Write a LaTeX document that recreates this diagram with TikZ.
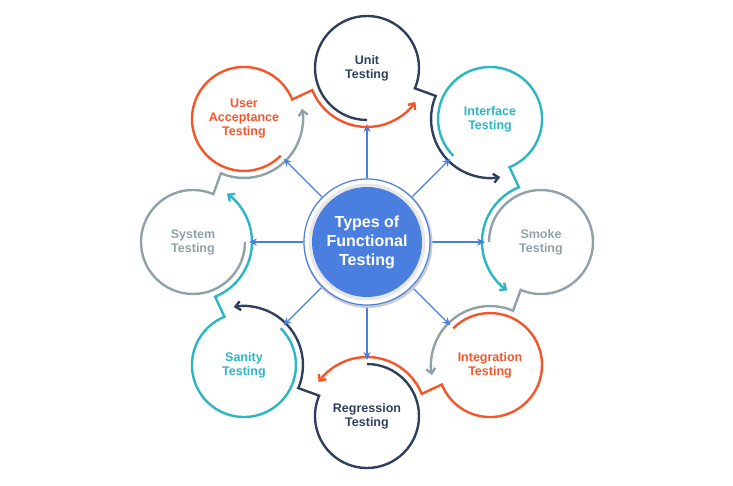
\documentclass[tikz,border=0pt]{standalone}
\usepackage{fontspec}
\setmainfont{Liberation Sans}
\usetikzlibrary{arrows.meta,calc}
\definecolor{navy}{HTML}{2E405E}
\definecolor{teal}{HTML}{2CB6C4}
\definecolor{gry}{HTML}{8FA2A7}
\definecolor{orng}{HTML}{F4562A}
\definecolor{cblue}{HTML}{4A7FE0}
\begin{document}
\begin{tikzpicture}[x=1pt,y=1pt,
  lbl/.style={font=\fontsize{12.5}{14}\selectfont\bfseries,align=center},
  ring/.style={line width=2.4pt,-{Straight Barb[length=5pt,width=9pt]}},
  spoke/.style={cblue,line width=1.2pt,-{Stealth[length=8pt,width=7pt]}}]
\useasboundingbox (0,0) rectangle (733,485);
\begin{scope}[shift={(367,243)}]
\coordinate (O) at (0,0);
\foreach \i/\c/\t in {0/navy/{Unit\\Testing},1/teal/{Interface\\Testing},2/gry/{Smoke\\Testing},3/orng/{Integration\\Testing},4/navy/{Regression\\Testing},5/teal/{Sanity\\Testing},6/gry/{System\\Testing},7/orng/{User\\Acceptance\\Testing}}{
  \pgfmathsetmacro\th{90-45*\i}
  \node[lbl,text=\c] (n\i) at (\th:174) {\t};
  \coordinate (s\i) at (\th:118);
  \coordinate (e\i) at (\th:64);
  \draw[ring,\c] ($(\th:174)+(\th+180:52)$) arc[start angle=\th+180,end angle=\th-113,radius=52]
     -- ($(\th-45:174)+(\th+67:59)$) arc[start angle=\th+67,end angle=\th+190,radius=59];
  \draw[spoke] (e\i) -- (s\i);
}
\fill[black!20] (1,-1.5) circle (64.5);
\draw[cblue,fill=white,line width=1.2pt] (0,0) circle (63);
\fill[black!9] (0,0) circle (58.5);
\node[circle,fill=cblue,minimum size=110pt,inner sep=0pt,text=white,
  font=\fontsize{16}{19}\selectfont\bfseries,align=center] (c) at (O) {Types of\\Functional\\Testing};
\end{scope}
\end{tikzpicture}
\end{document}
